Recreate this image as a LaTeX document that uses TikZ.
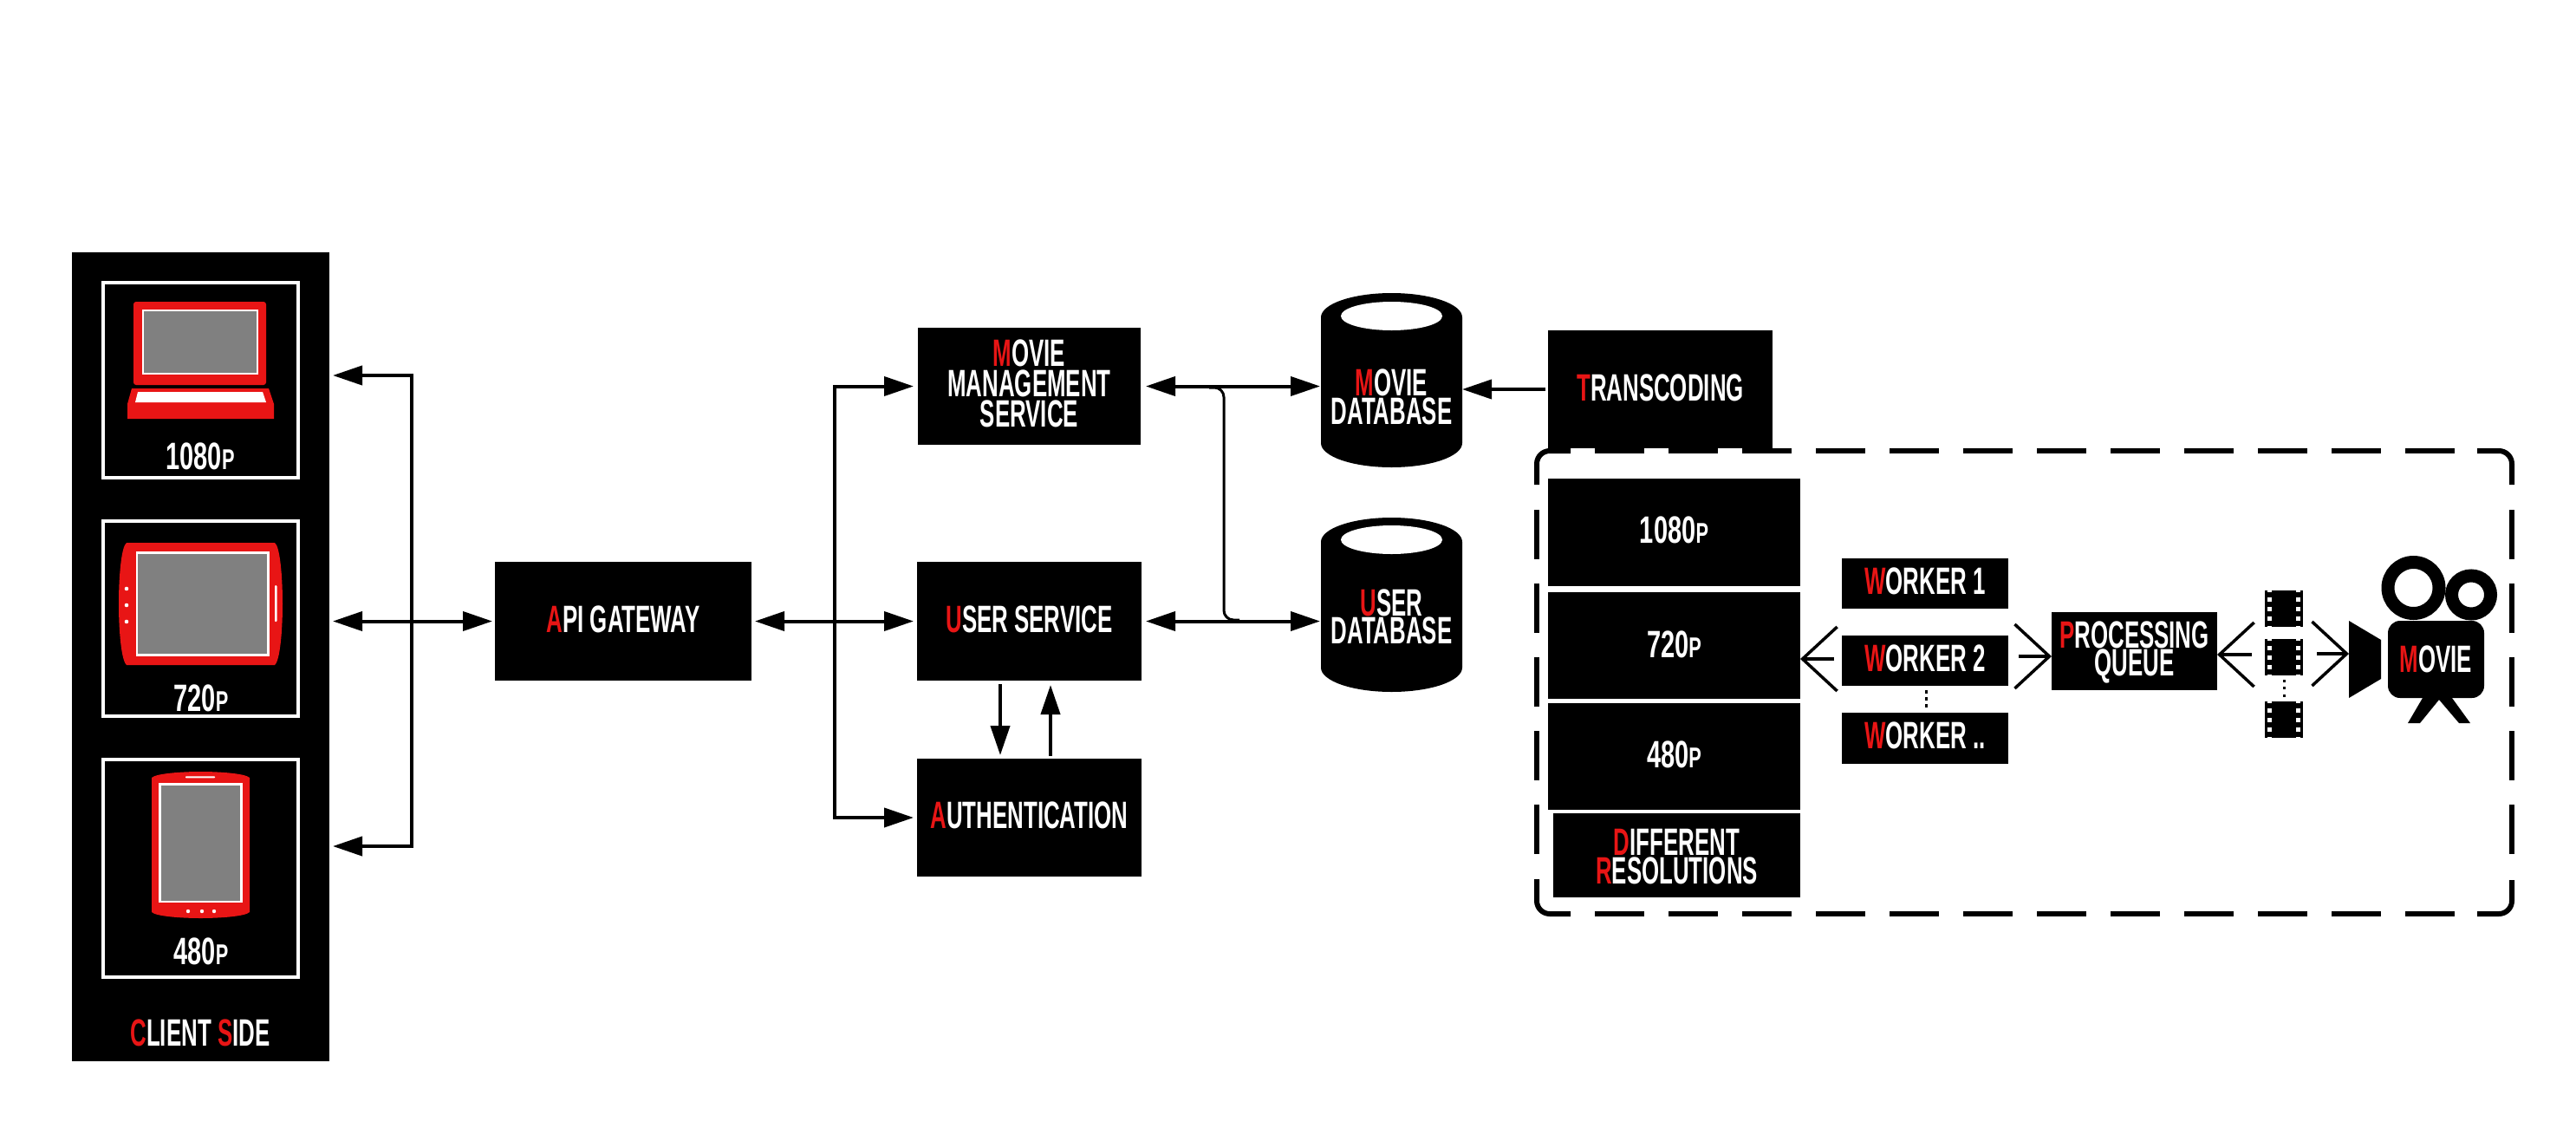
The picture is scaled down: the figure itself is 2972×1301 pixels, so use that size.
\documentclass[tikz,border=0pt]{standalone}
\usepackage{fontspec}
\setmainfont[FakeStretch=0.588]{Liberation Sans}
\newfontfamily\digf[FakeStretch=0.66]{Liberation Sans}
\usetikzlibrary{arrows.meta}
\definecolor{bred}{HTML}{E81515}
\definecolor{scr}{HTML}{808080}
\newcommand\lbl[2]{\raisebox{\dimexpr#1pt-12.5pt\relax}[0pt][0pt]{\fontsize{44}{35}\selectfont\begin{tabular}{@{}c@{}}#2\end{tabular}}}
\newcommand\redl[1]{\textcolor{bred}{#1}}
\newcommand\res[1]{{\digf #1{\fontsize{33}{33}\selectfont P}}}
\newcommand\filmstrip[2]{%
  \node[blk,minimum width=44,minimum height=42] (#1) at (2635,#2) {};
  \foreach \dy in {-11,0,11}{
    \fill[white] (2616,#2+\dy-2.5) rectangle (2621,#2+\dy+2.5);
    \fill[white] (2649,#2+\dy-2.5) rectangle (2654,#2+\dy+2.5);
  }
  \foreach \xx in {2616,2649}{
    \fill[white] (\xx,#2-21) rectangle (\xx+5,#2-19.5);
    \fill[white] (\xx,#2+19.5) rectangle (\xx+5,#2+21);
  }
}
\tikzset{
  blk/.style={fill=black,draw=none,inner sep=0pt,outer sep=0pt,text=white,align=center,
    font=\fontsize{44}{35}\selectfont\bfseries},
  txtl/.style={inner sep=0pt,outer sep=0pt,text=white,align=center,
    font=\fontsize{44}{35}\selectfont\bfseries},
  devbox/.style={draw=white,line width=4pt,fill=black,inner sep=0pt},
  arr/.style={line width=4pt,-{Triangle[length=34pt,width=22pt]}},
  dbl/.style={line width=4pt,{Triangle[length=34pt,width=22pt]}-{Triangle[length=34pt,width=22pt]}},
  open/.style={line width=3.5pt,-{Straight Barb[length=40pt,width=74pt,line width=3.5pt]}},
  dashside/.style={line width=6pt,dash pattern=on 57pt off 28pt},
  dashcorner/.style={line width=6pt,rounded corners=15pt},
}
\begin{document}
\begin{tikzpicture}[x=1pt,y=-1pt]
\useasboundingbox (0,0) rectangle (2972,1301);
% client panel
\node[blk,minimum width=297,minimum height=933] (client) at (231.5,757.5) {};
\node[devbox,minimum width=225,minimum height=225] (box1080) at (231.5,438.5) {};
\node[devbox,minimum width=225,minimum height=225] (box720) at (231.5,713.5) {};
\node[devbox,minimum width=225,minimum height=251] (box480) at (231.5,1001.5) {};
% laptop
\fill[bred,rounded corners=3pt] (154,348) rectangle (307,444);
\fill[white] (164,357) rectangle (298,432);
\fill[scr] (166,359) rectangle (296,430);
\fill[bred] (152,448) -- (310,448) -- (316,466) -- (316,483) -- (147,483) -- (147,466) -- cycle;
\fill[white] (159,452) -- (303,452) -- (307,464) -- (156,464) -- cycle;
% tablet
\fill[bred] (146,626) -- (317,626) .. controls (323,630) and (326,665) .. (326,696) .. controls (326,728) and (323,762) .. (317,767) -- (146,767) .. controls (140,762) and (137,728) .. (137,696) .. controls (137,665) and (140,630) .. (146,626) -- cycle;
\fill[white] (157,636) rectangle (311,757);
\fill[scr] (159,639) rectangle (308,754);
\foreach \yy in {679,698,717} \fill[white] (146,\yy) circle (2.3pt);
\fill[white,rounded corners=1pt] (317,675) rectangle (319.5,717);
% phone
\fill[bred] (175,897) .. controls (180,892) and (210,890) .. (231.5,890) .. controls (253,890) and (283,892) .. (288,897) -- (288,1052) .. controls (283,1057) and (253,1059) .. (231.5,1059) .. controls (210,1059) and (180,1057) .. (175,1052) -- cycle;
\fill[white] (183,903) rectangle (280,1041);
\fill[scr] (186,906) rectangle (277,1039);
\fill[white,rounded corners=0.7pt] (214,895.3) rectangle (248,897.3);
\foreach \xx in {217,233,247} \fill[white] (\xx,1051) circle (2.2pt);
% client labels
\node[txtl] (t1080) at (231,526) {\res{1080}};
\node[txtl] (t720) at (232,805) {\res{720}};
\node[txtl] (t480) at (232,1097) {\res{480}};
\node[txtl] (tclient) at (231,1191) {\redl{C}LIENT \redl{S}IDE};
% boxes
\node[blk,minimum width=296,minimum height=137] (api) at (719,716.5) {\lbl{3.5}{\redl{A}PI GATEWAY}};
\node[blk,minimum width=257,minimum height=135] (movie) at (1187.5,445.5) {\lbl{4.5}{\redl{M}OVIE\\[-6pt]MANAGEMENT\\[-6pt]SERVICE}};
\node[blk,minimum width=259,minimum height=137] (user) at (1187.5,716.5) {\lbl{3.5}{\redl{U}SER SERVICE}};
\node[blk,minimum width=259,minimum height=136] (auth) at (1187.5,943) {\lbl{4}{\redl{A}UTHENTICATION}};
% cylinders
\foreach \cy/\wy in {338/348,597/606}{
  \fill (1524,\cy+28) arc[start angle=180,end angle=360,x radius=81.5,y radius=28] -- (1687,\cy+173) arc[start angle=0,end angle=180,x radius=81.5,y radius=28] -- cycle;
  \fill[white] (1605.5,\wy+16.5) ellipse[x radius=58.5,y radius=16.5];
}
\node[txtl,minimum width=163,minimum height=201] (mdb) at (1605.5,438.5) {\lbl{-18}{\redl{M}OVIE\\[-8.5pt]DATABASE}};
\node[txtl,minimum width=163,minimum height=200] (udb) at (1605.5,697) {\lbl{-13}{\redl{U}SER\\[-8.5pt]DATABASE}};
% transcoding
\node[blk,minimum width=259,minimum height=136] (trans) at (1915.5,449) {\lbl{3}{\redl{T}RANSCODING}};
% dashed frame
\coordinate (fa) at (1773,520);\coordinate (fb) at (2898,520);\coordinate (fc) at (2898,1054);\coordinate (fd) at (1773,1054);
\draw[dashcorner] (1773,559) -- (fa) -- (1812,520);
\draw[dashcorner] (2858,520) -- (fb) -- (2898,559);
\draw[dashcorner] (2898,1015) -- (fc) -- (2858,1054);
\draw[dashcorner] (1812,1054) -- (fd) -- (1773,1014);
\draw[dashside] (1840,520) -- (2832,520);
\draw[dashside] (1840,1054) -- (2832,1054);
\draw[dashside] (1773,588) -- (1773,986);
\draw[dashside] (2898,588) -- (2898,986);
% resolutions
\node[blk,minimum width=291,minimum height=124] (r1080) at (1931.5,614) {\lbl{4}{\res{1080}}};
\node[blk,minimum width=291,minimum height=123] (r720) at (1931.5,744.5) {\lbl{2.5}{\res{720}}};
\node[blk,minimum width=291,minimum height=123] (r480) at (1931.5,872.5) {\lbl{3.5}{\res{480}}};
\node[blk,minimum width=285,minimum height=97] (rdiff) at (1934.5,986.5) {\lbl{0}{\redl{D}IFFERENT\\[-8.5pt]\redl{R}ESOLUTIONS}};
% workers
\node[blk,minimum width=192,minimum height=58] (w1) at (2221,673) {\lbl{4}{\redl{W}ORKER 1}};
\node[blk,minimum width=192,minimum height=58] (w2) at (2221,762) {\lbl{4}{\redl{W}ORKER 2}};
\node[blk,minimum width=192,minimum height=59] (w3) at (2221,851.5) {\lbl{4.5}{\redl{W}ORKER ..}};
\foreach \yy in {798,806,814} \fill (2220.5,\yy-2) rectangle (2224,\yy+2);
% queue
\node[blk,minimum width=191,minimum height=90] (pq) at (2462.5,751) {\lbl{4}{\redl{P}ROCESSING\\[-8.5pt]QUEUE}};
% film
\filmstrip{f1}{702}
\filmstrip{f2}{758}
\filmstrip{f3}{830}
\foreach \yy in {785,793,802} \fill (2633.5,\yy-1.5) rectangle (2636.5,\yy+1.5);
% camera
\fill (2710,716) -- (2747,738) -- (2747,783) -- (2710,805) -- cycle;
\draw[line width=15pt] (2784.5,678) ellipse[x radius=29.5,y radius=29.5];
\draw[line width=15pt] (2851,686) ellipse[x radius=22.5,y radius=22];
\fill (2778,834) -- (2795,805) -- (2829,805) -- (2850,834) -- (2837,834) -- (2814,807) -- (2792,834) -- cycle;
\node[blk,rounded corners=14pt,minimum width=111,minimum height=89] (cam) at (2810.5,760.5) {\lbl{1.5}{\redl{M}OVIE}};
% connectors left
\coordinate (bj) at (475,717);
\coordinate (bt) at (475,433);
\coordinate (bb) at (475,976);
\coordinate (rj) at (963,717);
\draw[dbl,shorten <=4pt,shorten >=3pt] (client.east |- api.west) -- (api.west);
\draw[arr,shorten >=4pt] (bj) -- (bt) -- (client.east |- bt);
\draw[arr,shorten >=4pt] (bj) -- (bb) -- (client.east |- bb);
\draw[dbl,shorten <=4pt,shorten >=4pt] (api.east) -- (user.west);
\draw[arr,shorten >=5pt] (rj) |- (movie.west);
\draw[arr,shorten >=4pt] (rj) |- (auth.west);
% services and databases
\draw[dbl,shorten <=6pt,shorten >=1pt] (movie.east) -- (movie.east -| mdb.west);
\draw[dbl,shorten <=5pt,shorten >=1pt] (user.east) -- (user.east -| udb.west);
\coordinate (xa) at (1395,447);\coordinate (xb) at (1412,447);\coordinate (xc) at (1412,715);\coordinate (xd) at (1430,715);
\draw[line width=3pt,rounded corners=11pt] (xa) -- (xb) -- (xc) -- (xd);
\draw[arr,shorten <=3pt] (trans.west) -- (trans.west -| mdb.east);
\coordinate (dnx) at (1154,800);\coordinate (upx) at (1212,800);
\draw[arr,shorten <=4pt,shorten >=4pt] (user.south -| dnx) -- (auth.north -| dnx);
\draw[arr,shorten <=3pt,shorten >=5pt] (auth.north -| upx) -- (user.south -| upx);
% open arrows
\coordinate (a1) at (2598,755);\coordinate (a2) at (2673,754);\coordinate (a2e) at (2710,754);
\coordinate (a3) at (2329,757);\coordinate (a4) at (2116,760);
\draw[open] (a1) -- (pq.east |- a1);
\draw[open] (a2) -- (a2e);
\draw[open] (a3) -- (pq.west |- a3);
\draw[open] (a4) -- (r720.east |- a4);
\end{tikzpicture}
\end{document}
